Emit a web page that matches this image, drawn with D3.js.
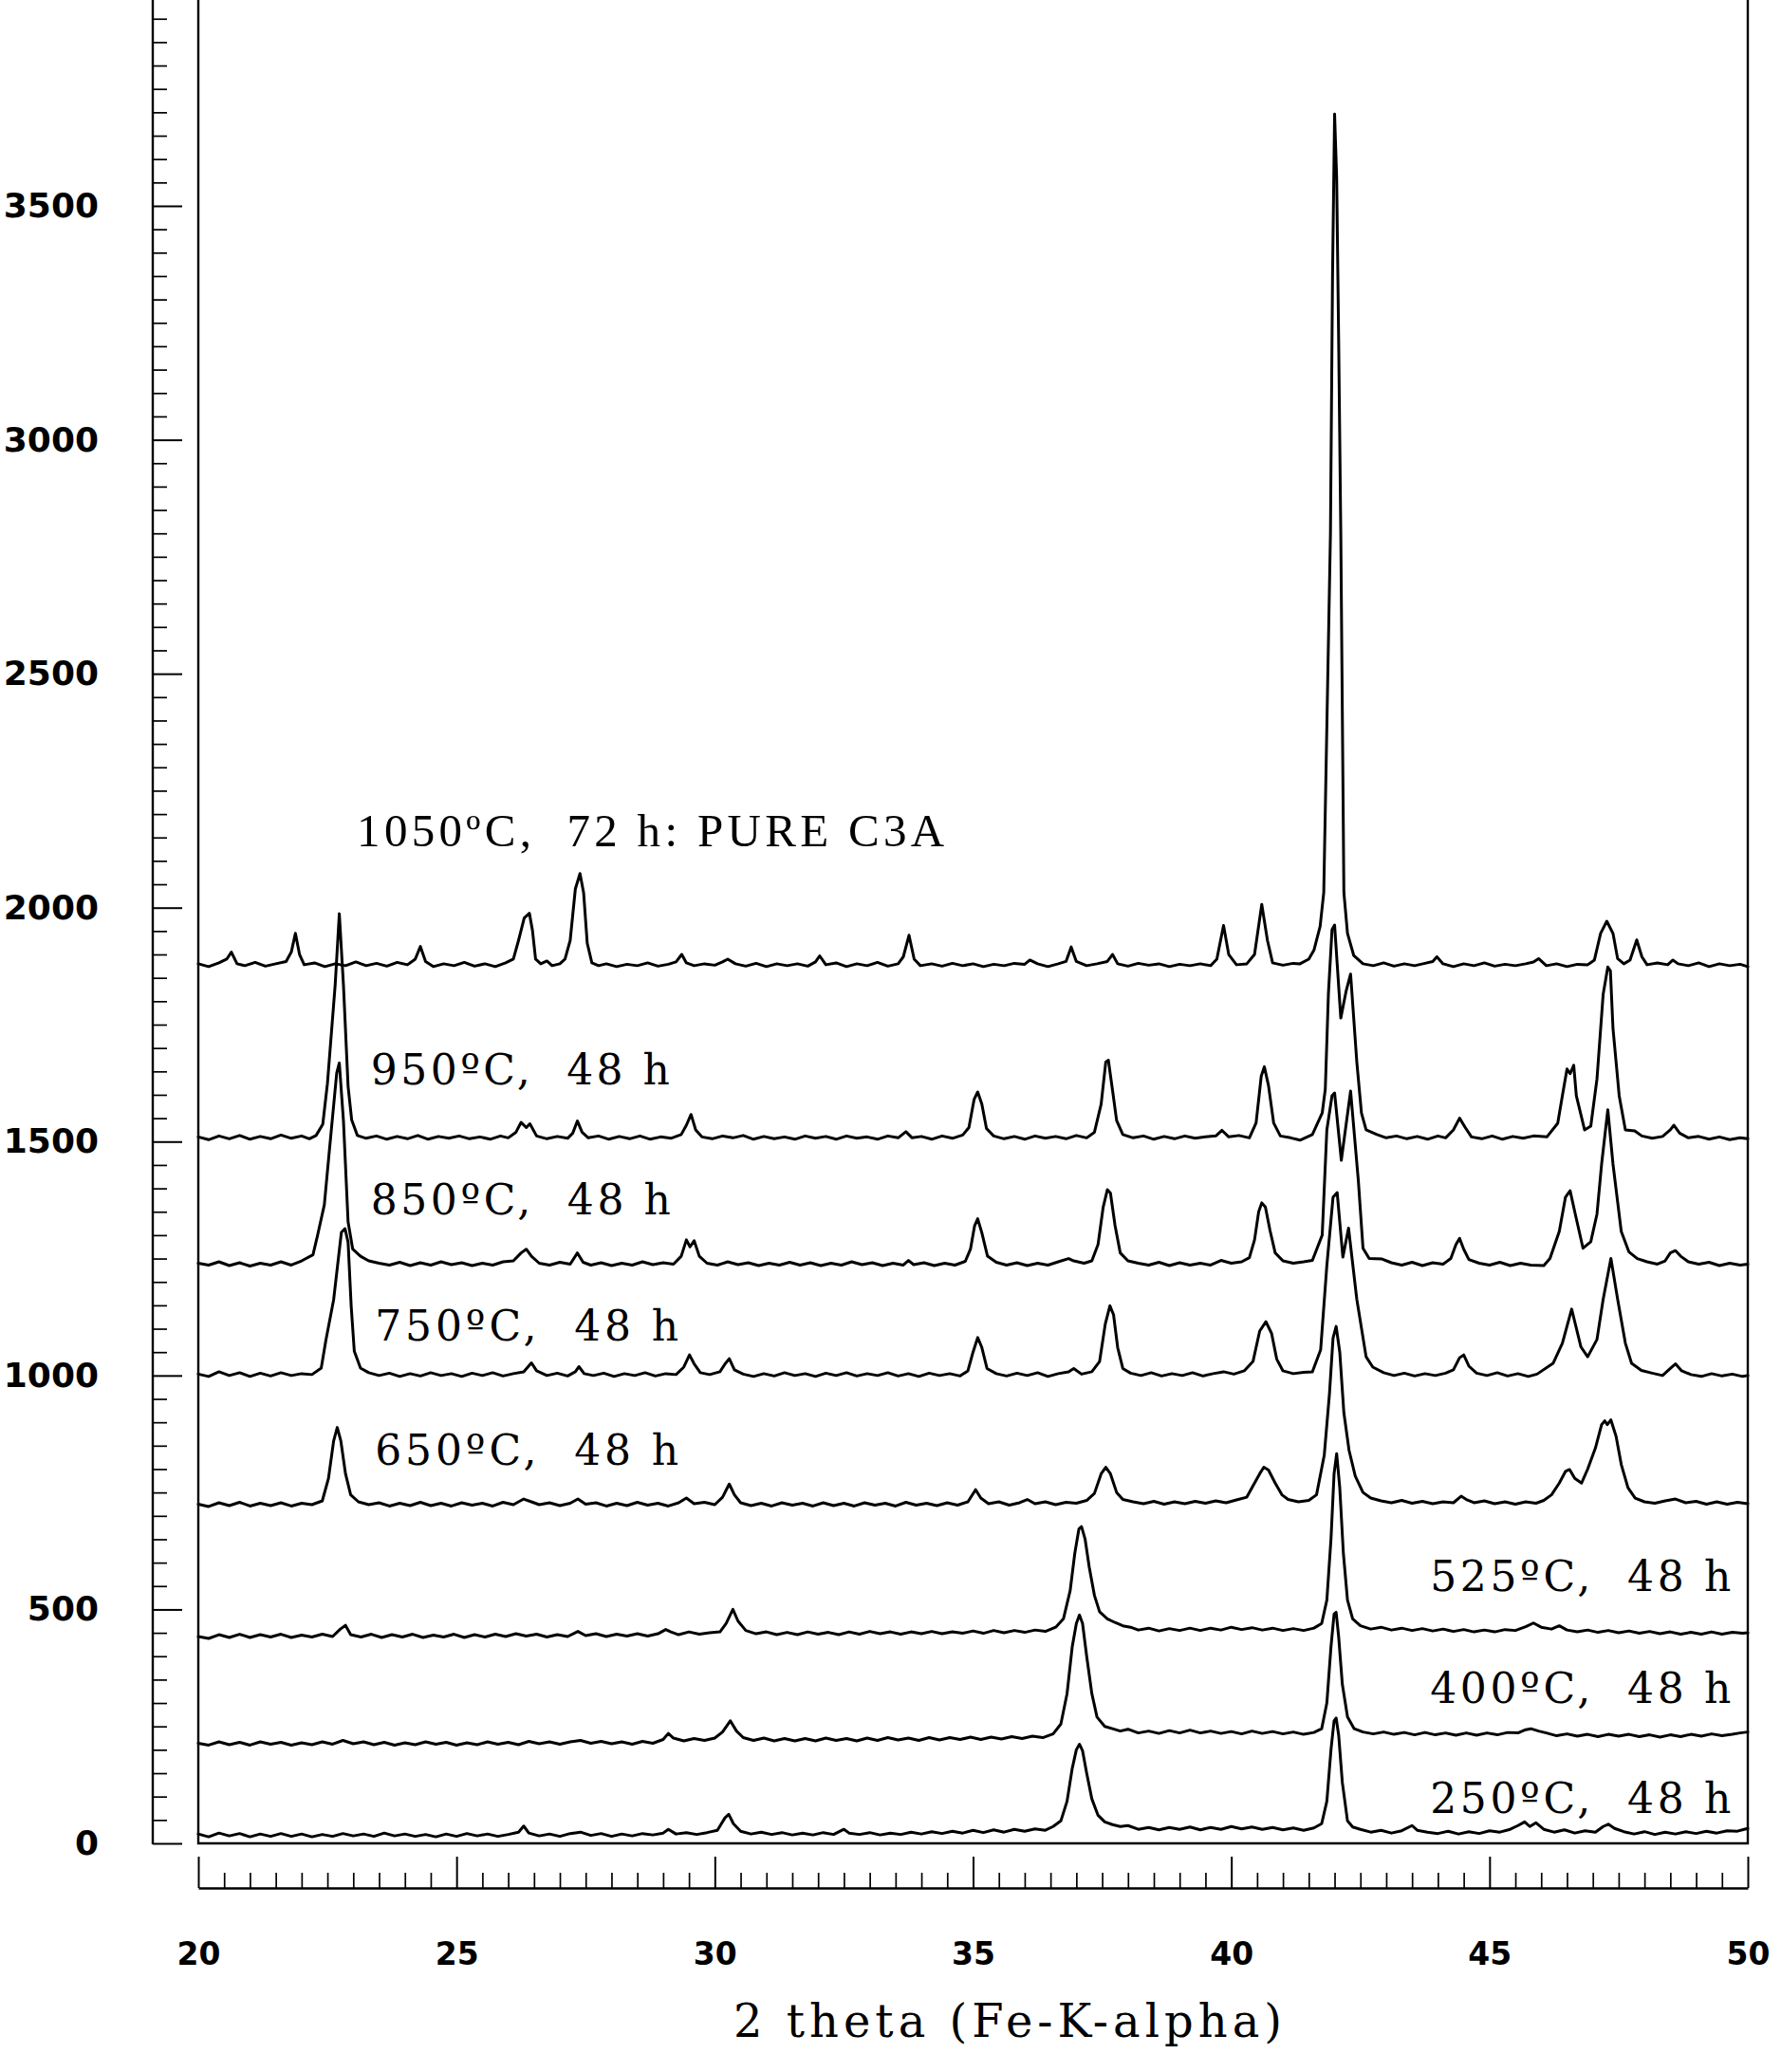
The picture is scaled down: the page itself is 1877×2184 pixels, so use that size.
<!DOCTYPE html>
<html><head><meta charset="utf-8">
<script src="https://cdn.jsdelivr.net/npm/d3@7"></script>
<style>html,body{margin:0;padding:0;background:#fff;}svg{display:block;}</style>
</head><body>
<svg id="chart" width="1877" height="2184"></svg>
<script>
// ---------- tick labels / axis text ----------
const xTicks = [20, 25, 30, 35, 40, 45, 50];
const yTicks = [0, 500, 1000, 1500, 2000, 2500, 3000, 3500];
const xTitle = "2 theta (Fe-K-alpha)";

// ---------- curve labels ----------
const curveLabels = ["1050ºC,  72 h: PURE C3A", "950ºC,  48 h", "850ºC,  48 h", "750ºC,  48 h",
                     "650ºC,  48 h", "525ºC,  48 h", "400ºC,  48 h", "250ºC,  48 h"];
// label anchors in data units [2theta, counts] (left end of text, baseline)
const labelAnchors = [[23.07, 2131], [23.34, 1622], [23.34, 1345], [23.42, 1075],
                      [23.42, 809], [43.85, 539], [43.85, 300], [43.85, 65]];

// ---------- series: [2theta, counts] ----------
const s1050 = [[20.0,1880],[20.2,1874],[20.4,1882],[20.55,1890],[20.64,1905],[20.75,1880],[20.9,1876],[21.1,1883],[21.3,1875],[21.5,1880],[21.7,1885],[21.8,1905],[21.88,1945],[21.96,1900],[22.05,1878],[22.25,1882],[22.45,1874],[22.65,1880],[22.85,1876],[23.05,1884],[23.25,1876],[23.45,1881],[23.65,1875],[23.85,1883],[24.05,1878],[24.2,1890],[24.3,1917],[24.4,1885],[24.55,1874],[24.75,1880],[24.95,1876],[25.15,1883],[25.35,1875],[25.55,1880],[25.75,1874],[25.95,1882],[26.1,1890],[26.2,1930],[26.31,1978],[26.41,1988],[26.47,1951],[26.53,1890],[26.63,1880],[26.75,1886],[26.85,1876],[27.0,1880],[27.1,1890],[27.2,1930],[27.3,2040],[27.39,2073],[27.46,2032],[27.53,1924],[27.62,1882],[27.75,1876],[27.9,1880],[28.1,1874],[28.3,1879],[28.5,1876],[28.7,1882],[28.9,1875],[29.1,1879],[29.25,1884],[29.36,1900],[29.45,1882],[29.6,1876],[29.8,1880],[30.0,1877],[30.15,1884],[30.25,1890],[30.4,1880],[30.6,1875],[30.8,1881],[31.0,1874],[31.2,1880],[31.4,1876],[31.6,1880],[31.8,1875],[31.95,1884],[32.03,1897],[32.15,1878],[32.35,1882],[32.55,1874],[32.75,1880],[32.95,1876],[33.15,1883],[33.35,1875],[33.55,1880],[33.65,1895],[33.76,1941],[33.86,1890],[33.98,1876],[34.2,1880],[34.4,1875],[34.6,1881],[34.8,1876],[35.0,1880],[35.2,1874],[35.4,1879],[35.6,1876],[35.8,1881],[36.0,1879],[36.1,1888],[36.25,1880],[36.45,1874],[36.65,1880],[36.8,1885],[36.9,1916],[37.0,1885],[37.2,1876],[37.4,1880],[37.6,1885],[37.7,1900],[37.8,1880],[38.0,1875],[38.2,1881],[38.4,1877],[38.6,1880],[38.8,1874],[39.0,1879],[39.2,1876],[39.4,1880],[39.6,1876],[39.72,1890],[39.85,1962],[39.95,1900],[40.1,1878],[40.3,1880],[40.45,1900],[40.59,2007],[40.7,1930],[40.8,1882],[41.0,1877],[41.2,1881],[41.33,1880],[41.5,1890],[41.6,1909],[41.72,1960],[41.79,2032],[41.92,2800],[41.96,3350],[42.0,3696],[42.04,3560],[42.08,3200],[42.12,2800],[42.18,2032],[42.25,1945],[42.37,1898],[42.55,1880],[42.75,1876],[42.95,1882],[43.15,1875],[43.35,1880],[43.55,1876],[43.75,1881],[43.9,1885],[43.98,1895],[44.1,1880],[44.3,1874],[44.5,1880],[44.7,1876],[44.9,1882],[45.1,1875],[45.3,1879],[45.5,1876],[45.7,1880],[45.85,1884],[45.95,1891],[46.1,1876],[46.3,1880],[46.5,1874],[46.7,1879],[46.9,1878],[47.03,1888],[47.15,1945],[47.27,1971],[47.39,1945],[47.48,1891],[47.6,1880],[47.72,1888],[47.85,1931],[47.95,1895],[48.05,1878],[48.25,1882],[48.45,1878],[48.55,1888],[48.65,1880],[48.85,1876],[49.05,1882],[49.25,1874],[49.45,1880],[49.65,1876],[49.85,1879],[50.0,1874]];

const s950 = [[20.0,1510],[20.2,1504],[20.4,1512],[20.6,1506],[20.8,1513],[21.0,1505],[21.2,1511],[21.4,1506],[21.6,1514],[21.8,1507],[22.0,1512],[22.15,1506],[22.28,1513],[22.41,1537],[22.5,1624],[22.65,1835],[22.73,1987],[22.81,1835],[22.9,1618],[22.97,1546],[23.08,1513],[23.25,1507],[23.45,1512],[23.65,1505],[23.85,1511],[24.05,1506],[24.25,1513],[24.45,1505],[24.65,1511],[24.85,1507],[25.05,1512],[25.25,1506],[25.45,1510],[25.65,1505],[25.85,1512],[26.0,1508],[26.15,1520],[26.25,1541],[26.35,1530],[26.42,1538],[26.55,1512],[26.75,1506],[26.95,1511],[27.15,1507],[27.25,1518],[27.34,1544],[27.43,1520],[27.55,1508],[27.75,1512],[27.95,1505],[28.15,1511],[28.35,1506],[28.55,1512],[28.75,1505],[28.95,1510],[29.15,1507],[29.35,1515],[29.45,1535],[29.54,1558],[29.63,1525],[29.75,1510],[29.95,1506],[30.15,1512],[30.35,1508],[30.55,1513],[30.75,1505],[30.95,1511],[31.15,1506],[31.35,1510],[31.55,1505],[31.75,1512],[31.95,1507],[32.15,1511],[32.35,1505],[32.55,1512],[32.75,1507],[32.95,1510],[33.15,1505],[33.35,1512],[33.55,1508],[33.7,1521],[33.82,1508],[34.0,1511],[34.2,1505],[34.4,1512],[34.6,1507],[34.8,1514],[34.92,1530],[35.02,1590],[35.09,1606],[35.17,1580],[35.26,1528],[35.4,1512],[35.6,1506],[35.8,1511],[36.0,1505],[36.2,1512],[36.4,1507],[36.6,1511],[36.8,1506],[37.0,1513],[37.2,1508],[37.35,1520],[37.48,1580],[37.57,1670],[37.62,1674],[37.7,1610],[37.78,1545],[37.9,1515],[38.1,1508],[38.3,1512],[38.5,1505],[38.7,1511],[38.9,1506],[39.1,1512],[39.3,1507],[39.5,1510],[39.7,1512],[39.82,1524],[39.95,1510],[40.15,1513],[40.35,1508],[40.48,1540],[40.58,1640],[40.64,1660],[40.72,1620],[40.82,1540],[40.95,1512],[41.15,1508],[41.33,1503],[41.57,1515],[41.76,1561],[41.82,1612],[41.88,1815],[41.95,1953],[42.0,1963],[42.12,1764],[42.22,1820],[42.31,1858],[42.43,1670],[42.52,1561],[42.61,1525],[42.82,1515],[43.0,1508],[43.2,1512],[43.4,1506],[43.6,1511],[43.8,1505],[44.0,1512],[44.15,1508],[44.3,1525],[44.42,1550],[44.53,1530],[44.65,1510],[44.85,1506],[45.05,1512],[45.25,1505],[45.45,1511],[45.65,1507],[45.85,1512],[46.11,1510],[46.32,1539],[46.41,1598],[46.5,1655],[46.56,1645],[46.63,1663],[46.68,1598],[46.84,1525],[46.96,1533],[47.08,1634],[47.2,1815],[47.29,1873],[47.34,1865],[47.39,1742],[47.51,1598],[47.63,1525],[47.81,1523],[47.95,1512],[48.15,1507],[48.35,1511],[48.5,1525],[48.57,1535],[48.68,1518],[48.85,1508],[49.05,1511],[49.25,1505],[49.45,1510],[49.65,1504],[49.85,1508],[50.0,1506]];

const s850 = [[20.0,1240],[20.2,1236],[20.4,1243],[20.6,1235],[20.8,1241],[21.0,1234],[21.2,1240],[21.4,1236],[21.6,1243],[21.8,1236],[22.0,1245],[22.22,1258],[22.31,1300],[22.44,1365],[22.53,1472],[22.68,1647],[22.73,1668],[22.81,1545],[22.9,1328],[22.99,1270],[23.14,1255],[23.3,1245],[23.5,1240],[23.7,1236],[23.9,1242],[24.1,1235],[24.3,1241],[24.5,1236],[24.7,1243],[24.9,1237],[25.1,1241],[25.3,1235],[25.5,1240],[25.7,1236],[25.9,1243],[26.1,1245],[26.25,1262],[26.35,1270],[26.45,1255],[26.6,1240],[26.8,1236],[27.0,1242],[27.2,1238],[27.34,1262],[27.45,1242],[27.6,1236],[27.8,1241],[28.0,1235],[28.2,1240],[28.4,1236],[28.6,1243],[28.8,1237],[29.0,1241],[29.2,1238],[29.35,1255],[29.45,1290],[29.52,1275],[29.6,1288],[29.7,1255],[29.85,1240],[30.05,1236],[30.25,1243],[30.45,1237],[30.65,1241],[30.85,1235],[31.05,1240],[31.25,1236],[31.45,1242],[31.65,1236],[31.85,1241],[32.05,1235],[32.25,1240],[32.45,1236],[32.65,1243],[32.85,1237],[33.05,1241],[33.25,1235],[33.45,1240],[33.65,1236],[33.75,1246],[33.85,1237],[34.05,1241],[34.25,1235],[34.45,1240],[34.65,1236],[34.85,1244],[34.95,1270],[35.03,1320],[35.09,1335],[35.17,1305],[35.28,1255],[35.45,1242],[35.65,1236],[35.85,1241],[36.05,1235],[36.25,1240],[36.45,1236],[36.65,1243],[36.85,1250],[36.95,1245],[37.15,1240],[37.3,1245],[37.42,1280],[37.52,1360],[37.6,1397],[37.66,1390],[37.75,1320],[37.85,1262],[38.0,1245],[38.2,1240],[38.4,1236],[38.6,1242],[38.8,1235],[39.0,1241],[39.2,1236],[39.4,1240],[39.6,1236],[39.8,1246],[40.0,1240],[40.2,1243],[40.35,1252],[40.45,1290],[40.53,1350],[40.59,1369],[40.66,1360],[40.75,1310],[40.85,1262],[41.0,1245],[41.2,1240],[41.4,1243],[41.57,1246],[41.76,1300],[41.85,1525],[41.95,1598],[42.0,1604],[42.13,1460],[42.31,1608],[42.46,1416],[42.55,1272],[42.67,1250],[42.92,1249],[43.1,1241],[43.3,1236],[43.5,1242],[43.7,1235],[43.9,1241],[44.1,1238],[44.25,1250],[44.35,1280],[44.42,1293],[44.5,1270],[44.6,1248],[44.8,1240],[45.0,1236],[45.2,1242],[45.4,1235],[45.6,1240],[45.8,1236],[46.05,1235],[46.17,1250],[46.35,1308],[46.47,1381],[46.56,1395],[46.66,1345],[46.81,1272],[46.96,1286],[47.08,1345],[47.17,1452],[47.29,1568],[47.39,1452],[47.55,1308],[47.7,1264],[47.86,1250],[48.05,1243],[48.25,1238],[48.4,1245],[48.5,1262],[48.6,1267],[48.7,1255],[48.85,1243],[49.05,1238],[49.25,1242],[49.45,1235],[49.65,1240],[49.85,1236],[50.0,1238]];

const s750 = [[20.0,1003],[20.2,998],[20.4,1008],[20.6,1000],[20.8,1006],[21.0,998],[21.2,1005],[21.4,999],[21.6,1006],[21.8,1000],[22.0,1004],[22.2,1002],[22.38,1016],[22.47,1075],[22.62,1162],[22.77,1306],[22.84,1314],[22.9,1285],[22.96,1148],[23.02,1052],[23.14,1016],[23.3,1006],[23.5,1000],[23.7,1005],[23.9,998],[24.1,1004],[24.3,999],[24.5,1006],[24.7,1000],[24.9,1004],[25.1,998],[25.3,1005],[25.5,1000],[25.7,1006],[25.9,999],[26.1,1004],[26.3,1008],[26.45,1027],[26.55,1010],[26.75,1000],[26.95,1005],[27.15,999],[27.3,1008],[27.37,1019],[27.47,1004],[27.65,1000],[27.85,1005],[28.05,998],[28.25,1004],[28.45,1000],[28.65,1006],[28.85,999],[29.05,1004],[29.25,1002],[29.4,1018],[29.51,1044],[29.6,1025],[29.72,1006],[29.9,1002],[30.1,1008],[30.2,1025],[30.28,1036],[30.38,1012],[30.55,1003],[30.75,998],[30.95,1004],[31.15,999],[31.35,1006],[31.55,1000],[31.75,1004],[31.95,998],[32.15,1005],[32.35,1000],[32.55,1006],[32.75,999],[32.95,1004],[33.15,1000],[33.35,1006],[33.55,999],[33.75,1004],[33.95,998],[34.15,1005],[34.35,1000],[34.55,1004],[34.75,999],[34.9,1010],[35.0,1050],[35.09,1081],[35.17,1060],[35.27,1015],[35.45,1004],[35.65,999],[35.85,1005],[36.05,1000],[36.25,1006],[36.45,998],[36.65,1004],[36.85,1008],[36.95,1015],[37.1,1003],[37.3,1008],[37.45,1030],[37.56,1110],[37.65,1149],[37.72,1130],[37.8,1060],[37.9,1015],[38.05,1005],[38.25,1000],[38.45,1006],[38.65,999],[38.85,1004],[39.05,1000],[39.25,1006],[39.45,999],[39.65,1004],[39.85,1008],[40.05,1003],[40.25,1010],[40.42,1030],[40.55,1095],[40.67,1115],[40.78,1090],[40.88,1035],[41.0,1010],[41.2,1004],[41.4,1007],[41.57,1008],[41.73,1055],[41.85,1235],[41.97,1381],[42.05,1391],[42.16,1253],[42.27,1315],[42.43,1163],[42.61,1040],[42.74,1018],[42.95,1006],[43.15,1000],[43.35,1005],[43.55,999],[43.75,1004],[43.95,1000],[44.15,1005],[44.3,1012],[44.42,1038],[44.5,1044],[44.6,1020],[44.75,1005],[44.95,1000],[45.15,1006],[45.35,999],[45.55,1004],[45.75,998],[45.92,1003],[46.23,1026],[46.41,1069],[46.59,1142],[46.77,1061],[46.9,1040],[47.08,1077],[47.2,1163],[47.35,1250],[47.48,1163],[47.63,1069],[47.75,1026],[47.94,1011],[48.15,1005],[48.35,1000],[48.5,1015],[48.6,1025],[48.72,1010],[48.9,1002],[49.1,998],[49.3,1004],[49.5,999],[49.7,1003],[49.9,998],[50.0,1000]];

const s650 = [[20.0,725],[20.2,720],[20.4,728],[20.6,722],[20.8,729],[21.0,721],[21.2,727],[21.4,722],[21.6,728],[21.8,721],[22.0,727],[22.2,724],[22.4,732],[22.52,780],[22.62,860],[22.69,889],[22.76,860],[22.85,790],[22.95,745],[23.1,730],[23.3,724],[23.5,728],[23.7,721],[23.9,727],[24.1,722],[24.3,729],[24.5,722],[24.7,727],[24.9,721],[25.1,728],[25.3,723],[25.5,727],[25.7,721],[25.9,729],[26.1,724],[26.3,736],[26.45,730],[26.6,724],[26.8,728],[27.0,722],[27.2,727],[27.35,736],[27.5,725],[27.7,728],[27.9,721],[28.1,727],[28.3,722],[28.5,729],[28.7,723],[28.9,727],[29.1,721],[29.3,728],[29.45,738],[29.6,726],[29.8,729],[30.0,724],[30.15,740],[30.28,768],[30.38,745],[30.5,728],[30.7,722],[30.9,727],[31.1,721],[31.3,728],[31.5,723],[31.7,727],[31.9,721],[32.1,728],[32.3,722],[32.5,727],[32.7,721],[32.9,728],[33.1,723],[33.3,727],[33.5,721],[33.7,729],[33.9,723],[34.1,727],[34.3,722],[34.5,728],[34.7,723],[34.9,730],[35.05,756],[35.15,738],[35.3,726],[35.5,730],[35.7,723],[35.9,728],[36.05,735],[36.2,726],[36.4,730],[36.6,724],[36.8,729],[37.0,727],[37.2,733],[37.35,748],[37.48,790],[37.57,804],[37.66,790],[37.78,750],[37.9,735],[38.1,730],[38.3,726],[38.5,731],[38.7,725],[38.9,730],[39.1,726],[39.3,731],[39.5,727],[39.7,732],[39.9,728],[40.1,734],[40.3,740],[40.45,770],[40.55,790],[40.63,804],[40.72,798],[40.85,770],[40.98,745],[41.1,735],[41.3,730],[41.5,733],[41.65,745],[41.8,830],[41.9,960],[41.97,1080],[42.03,1105],[42.1,1050],[42.18,920],[42.28,840],[42.4,785],[42.55,750],[42.7,738],[42.9,732],[43.1,728],[43.3,733],[43.5,727],[43.7,731],[43.9,726],[44.1,730],[44.3,728],[44.45,742],[44.55,735],[44.7,728],[44.9,732],[45.1,726],[45.3,730],[45.5,725],[45.7,730],[45.9,727],[46.05,733],[46.2,745],[46.35,770],[46.47,795],[46.55,799],[46.65,780],[46.78,770],[46.9,800],[47.05,845],[47.17,895],[47.23,903],[47.28,895],[47.35,905],[47.45,870],[47.55,810],[47.68,760],[47.82,738],[48.0,730],[48.2,727],[48.4,732],[48.6,736],[48.8,728],[49.0,731],[49.2,725],[49.4,730],[49.6,725],[49.8,729],[50.0,726]];

const s525 = [[20.0,442],[20.2,438],[20.4,446],[20.6,440],[20.8,447],[21.0,440],[21.2,446],[21.4,441],[21.6,447],[21.8,440],[22.0,445],[22.2,441],[22.4,447],[22.6,442],[22.75,458],[22.85,466],[22.95,446],[23.15,441],[23.35,447],[23.55,440],[23.75,446],[23.95,441],[24.15,447],[24.35,440],[24.55,445],[24.75,441],[24.95,447],[25.15,440],[25.35,446],[25.55,441],[25.75,447],[25.95,442],[26.15,448],[26.35,443],[26.55,447],[26.75,441],[26.95,446],[27.15,442],[27.35,453],[27.5,444],[27.7,448],[27.9,442],[28.1,447],[28.3,443],[28.5,448],[28.7,443],[28.9,448],[29.05,457],[29.15,452],[29.3,446],[29.5,452],[29.7,447],[29.9,450],[30.1,452],[30.22,470],[30.35,500],[30.45,475],[30.6,455],[30.8,448],[31.0,452],[31.2,446],[31.4,451],[31.6,446],[31.8,452],[32.0,447],[32.2,451],[32.4,446],[32.6,452],[32.8,447],[33.0,453],[33.2,448],[33.4,452],[33.6,447],[33.8,452],[34.0,448],[34.2,453],[34.4,448],[34.6,452],[34.8,449],[35.0,454],[35.2,449],[35.4,455],[35.6,450],[35.8,455],[36.0,451],[36.2,456],[36.4,453],[36.6,462],[36.75,480],[36.88,540],[36.97,620],[37.05,672],[37.1,677],[37.17,650],[37.25,590],[37.35,530],[37.45,495],[37.6,480],[37.75,472],[37.9,465],[38.05,462],[38.2,456],[38.4,460],[38.6,454],[38.8,459],[39.0,455],[39.2,460],[39.4,455],[39.6,460],[39.8,456],[40.0,462],[40.2,457],[40.4,461],[40.6,456],[40.8,460],[41.0,455],[41.2,459],[41.4,455],[41.6,460],[41.75,470],[41.85,520],[41.93,650],[41.99,790],[42.04,833],[42.1,760],[42.17,620],[42.25,520],[42.35,480],[42.5,465],[42.7,458],[42.9,462],[43.1,456],[43.3,460],[43.5,455],[43.7,459],[43.9,454],[44.1,458],[44.3,453],[44.5,457],[44.7,452],[44.9,456],[45.1,452],[45.3,457],[45.5,455],[45.7,463],[45.85,471],[46.0,462],[46.2,458],[46.35,465],[46.5,456],[46.7,452],[46.9,456],[47.1,451],[47.3,455],[47.5,450],[47.7,454],[47.9,449],[48.1,453],[48.3,448],[48.5,452],[48.7,447],[48.9,451],[49.1,447],[49.3,452],[49.5,447],[49.7,451],[49.9,449],[50.0,450]];

const s400 = [[20.0,214],[20.2,210],[20.4,217],[20.6,211],[20.8,216],[21.0,210],[21.2,217],[21.4,212],[21.6,216],[21.8,210],[22.0,215],[22.2,211],[22.4,217],[22.6,212],[22.8,220],[23.0,213],[23.2,217],[23.4,211],[23.6,216],[23.8,210],[24.0,215],[24.2,211],[24.4,217],[24.6,212],[24.8,216],[25.0,210],[25.2,215],[25.4,211],[25.6,217],[25.8,212],[26.0,216],[26.2,211],[26.4,218],[26.6,213],[26.8,217],[27.0,212],[27.2,217],[27.4,220],[27.6,214],[27.8,218],[28.0,213],[28.2,217],[28.4,212],[28.6,218],[28.8,214],[29.0,222],[29.1,235],[29.2,225],[29.4,219],[29.6,224],[29.8,220],[30.0,225],[30.15,238],[30.3,262],[30.42,240],[30.55,226],[30.75,220],[30.95,225],[31.15,219],[31.35,224],[31.55,219],[31.75,224],[31.95,219],[32.15,225],[32.35,220],[32.55,224],[32.75,219],[32.95,225],[33.15,220],[33.35,226],[33.55,221],[33.75,225],[33.95,220],[34.15,226],[34.35,221],[34.55,226],[34.75,222],[34.95,227],[35.15,222],[35.35,227],[35.55,223],[35.75,228],[35.95,224],[36.15,229],[36.35,226],[36.55,234],[36.7,255],[36.82,320],[36.92,420],[37.0,470],[37.06,488],[37.12,470],[37.2,400],[37.3,320],[37.4,270],[37.55,250],[37.7,245],[37.85,240],[38.0,244],[38.2,236],[38.4,240],[38.6,235],[38.8,241],[39.0,236],[39.2,242],[39.4,236],[39.6,240],[39.8,235],[40.0,239],[40.2,234],[40.4,240],[40.6,235],[40.8,239],[41.0,234],[41.2,238],[41.4,233],[41.6,237],[41.75,245],[41.85,300],[41.93,420],[41.99,490],[42.03,494],[42.08,440],[42.15,340],[42.25,270],[42.38,245],[42.55,238],[42.75,234],[42.95,238],[43.15,233],[43.35,237],[43.55,232],[43.75,237],[43.95,232],[44.15,236],[44.35,231],[44.55,236],[44.75,231],[44.95,236],[45.15,232],[45.35,237],[45.55,236],[45.7,243],[45.8,245],[45.95,240],[46.1,236],[46.3,230],[46.5,234],[46.7,229],[46.9,233],[47.1,228],[47.3,233],[47.5,229],[47.7,233],[47.9,228],[48.1,232],[48.3,227],[48.5,232],[48.7,228],[48.9,233],[49.1,229],[49.3,234],[49.5,230],[49.7,233],[49.85,236],[50.0,238]];

const s250 = [[20.0,20],[20.2,14],[20.4,22],[20.6,16],[20.8,21],[21.0,14],[21.2,20],[21.4,15],[21.6,21],[21.8,15],[22.0,20],[22.2,14],[22.4,19],[22.6,15],[22.8,21],[23.0,16],[23.2,20],[23.4,15],[23.6,22],[23.8,16],[24.0,20],[24.2,15],[24.4,19],[24.6,14],[24.8,20],[25.0,15],[25.2,21],[25.4,16],[25.6,20],[25.8,15],[26.0,19],[26.2,24],[26.3,37],[26.4,22],[26.6,16],[26.8,20],[27.0,15],[27.2,21],[27.4,24],[27.6,17],[27.8,21],[28.0,15],[28.2,20],[28.4,16],[28.6,21],[28.8,18],[29.0,22],[29.1,30],[29.25,20],[29.45,23],[29.65,19],[29.85,23],[30.05,28],[30.2,55],[30.27,62],[30.36,42],[30.5,26],[30.7,20],[30.9,24],[31.1,19],[31.3,23],[31.5,18],[31.7,22],[31.9,18],[32.1,23],[32.3,19],[32.5,30],[32.6,22],[32.8,19],[33.0,23],[33.2,18],[33.4,22],[33.6,19],[33.8,24],[34.0,20],[34.2,25],[34.4,21],[34.6,26],[34.8,22],[35.0,28],[35.2,23],[35.4,29],[35.6,24],[35.8,30],[36.0,26],[36.2,31],[36.4,28],[36.55,36],[36.7,48],[36.82,90],[36.92,160],[37.0,200],[37.06,212],[37.12,198],[37.2,150],[37.3,95],[37.42,60],[37.55,46],[37.7,40],[37.85,36],[38.0,38],[38.2,30],[38.4,34],[38.6,29],[38.8,34],[39.0,30],[39.2,35],[39.4,29],[39.6,34],[39.8,30],[40.0,36],[40.2,31],[40.4,35],[40.6,30],[40.8,34],[41.0,29],[41.2,33],[41.4,28],[41.6,33],[41.75,42],[41.85,90],[41.93,200],[41.99,262],[42.03,268],[42.08,230],[42.15,130],[42.25,48],[42.35,35],[42.5,30],[42.7,24],[42.9,28],[43.1,22],[43.3,27],[43.5,38],[43.6,28],[43.8,24],[44.0,21],[44.2,26],[44.4,20],[44.6,25],[44.8,21],[45.0,27],[45.2,24],[45.4,30],[45.55,38],[45.68,46],[45.78,36],[45.9,44],[46.05,30],[46.25,24],[46.45,29],[46.65,22],[46.85,27],[47.05,24],[47.2,36],[47.3,41],[47.42,32],[47.6,25],[47.8,20],[48.0,25],[48.2,19],[48.4,24],[48.6,20],[48.8,25],[49.0,21],[49.2,26],[49.4,22],[49.6,27],[49.8,26],[49.93,30],[50.0,32]];

const series = [s1050, s950, s850, s750, s650, s525, s400, s250];

// ---------- drawing ----------
const svg = d3.select("#chart");
const x = d3.scaleLinear().domain([20, 50]).range([209, 1842]);
const y = d3.scaleLinear().domain([0, 3500]).range([1943, 217]);
const plotTop = 0;
const yAxisX = 161;
const xAxisY = 1990;

// plot frame (left, bottom, right; the top is cut off in the original)
svg.append("path")
  .attr("d", `M${x(20)},${plotTop}V${y(0)}H${x(50)}V${plotTop}`)
  .attr("fill", "none").attr("stroke", "#000").attr("stroke-width", 2.4);

// y axis (detached, left of the frame)
const gy = svg.append("g").attr("transform", `translate(${yAxisX},0)`);
const yMinor = d3.range(0, 3901, 50).filter(v => v % 500 !== 0);
gy.append("g")
  .call(d3.axisLeft(y).tickValues(yMinor).tickSize(-15).tickFormat(""))
  .call(g => g.select(".domain").remove())
  .selectAll("line").attr("stroke", "#000").attr("stroke-width", 1.7);
const gyMajor = gy.append("g")
  .call(d3.axisLeft(y).tickValues(yTicks).tickSize(-31).tickPadding(57).tickFormat(d3.format("d")))
  .call(g => g.select(".domain").remove());
gyMajor.selectAll("line").attr("stroke", "#000").attr("stroke-width", 2);
gyMajor.selectAll("text")
  .attr("font-family", "'DejaVu Sans', sans-serif").attr("font-weight", "bold")
  .attr("font-size", 36).attr("fill", "#000");
gy.append("line").attr("x1", 0).attr("x2", 0).attr("y1", plotTop).attr("y2", y(0) + 1)
  .attr("stroke", "#000").attr("stroke-width", 2.4);

// x axis (detached, below the frame, ticks pointing up)
const gx = svg.append("g").attr("transform", `translate(0,${xAxisY})`);
const xMinor = d3.range(20.5, 50, 0.5).filter(v => v % 5 !== 0);
gx.append("g")
  .call(d3.axisBottom(x).tickValues(xMinor).tickSize(-16).tickFormat(""))
  .call(g => g.select(".domain").remove())
  .selectAll("line").attr("stroke", "#000").attr("stroke-width", 1.7);
const gxMajor = gx.append("g")
  .call(d3.axisBottom(x).tickValues(xTicks).tickSizeInner(-33).tickSizeOuter(0).tickPadding(58).tickFormat(d3.format("d")));
gxMajor.select(".domain").attr("stroke", "#000").attr("stroke-width", 2.4);
gxMajor.selectAll("line").attr("stroke", "#000").attr("stroke-width", 2);
gxMajor.selectAll("text")
  .attr("font-family", "'DejaVu Sans', sans-serif").attr("font-weight", "bold")
  .attr("font-size", 33).attr("fill", "#000");

// x axis title
svg.append("text")
  .attr("x", 1062).attr("y", 2147)
  .attr("text-anchor", "middle")
  .attr("font-family", "'DejaVu Serif', serif").attr("font-size", 48)
  .attr("textLength", 578).attr("lengthAdjust", "spacing")
  .attr("fill", "#000")
  .style("white-space", "pre")
  .text(xTitle);

// traces
const line = d3.line().x(d => x(d[0])).y(d => y(d[1]));
svg.append("g").selectAll("path").data(series).join("path")
  .attr("d", line)
  .attr("fill", "none").attr("stroke", "#000")
  .attr("stroke-width", 3).attr("stroke-linejoin", "round").attr("stroke-linecap", "round");

// curve labels
const labelWidths = [619, 315, 316, 320, 320, 317, 317, 317];
const labelFonts = ["'Liberation Serif', serif", "'DejaVu Serif', serif", "'DejaVu Serif', serif", "'DejaVu Serif', serif",
                    "'DejaVu Serif', serif", "'DejaVu Serif', serif", "'DejaVu Serif', serif", "'DejaVu Serif', serif"];
const labelSizes = [49, 44, 44, 44, 44, 44, 44, 44];
svg.append("g").selectAll("text").data(curveLabels).join("text")
  .attr("x", (d, i) => x(labelAnchors[i][0]))
  .attr("y", (d, i) => y(labelAnchors[i][1]))
  .attr("font-family", (d, i) => labelFonts[i]).attr("font-size", (d, i) => labelSizes[i])
  .attr("textLength", (d, i) => labelWidths[i]).attr("lengthAdjust", "spacing")
  .attr("fill", "#000")
  .style("white-space", "pre")
  .text(d => d);
</script>
</body></html>
